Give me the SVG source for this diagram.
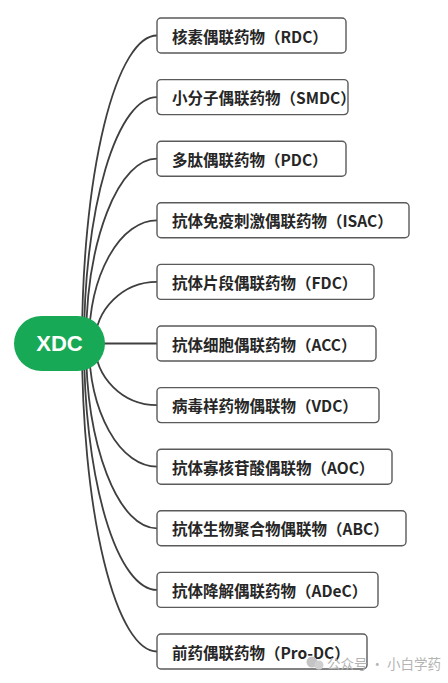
<svg xmlns="http://www.w3.org/2000/svg" width="448" height="683" viewBox="0 0 448 683">
<style>
.c{fill:none;stroke:#3f3f3f;stroke-width:1.8}
.b{fill:#fff;stroke:#5a5a5a;stroke-width:1.4}
.t{font-family:"Noto Sans CJK SC","Liberation Sans",sans-serif;font-size:15.5px;font-weight:700;fill:#262626;dominant-baseline:central}
.w{font-family:"Noto Sans CJK SC","Liberation Sans",sans-serif;font-size:13.5px;fill:#b4b4b4;dominant-baseline:central}
</style>
<rect width="448" height="683" fill="#fff"/>
<g id="connectors">
<path class="c" d="M82 343.5 A75 308 0 0 1 157 35.5"/>
<path class="c" d="M84 343.5 A73 246.4 0 0 1 157 97.1"/>
<path class="c" d="M86 343.5 A71 184.8 0 0 1 157 158.7"/>
<path class="c" d="M89 343.5 A68 123.2 0 0 1 157 220.3"/>
<path class="c" d="M95 343.5 A62 61.6 0 0 1 157 281.9"/>
<path class="c" d="M100 343.5 L157 343.5"/>
<path class="c" d="M95 343.5 A62 61.6 0 0 0 157 405.1"/>
<path class="c" d="M89 343.5 A68 123.2 0 0 0 157 466.7"/>
<path class="c" d="M86 343.5 A71 184.8 0 0 0 157 528.3"/>
<path class="c" d="M84 343.5 A73 246.4 0 0 0 157 589.9"/>
<path class="c" d="M82 343.5 A75 308 0 0 0 157 651.5"/>
</g>
<g id="root">
<rect x="14" y="316" width="91" height="55" rx="27.5" fill="#17a956"/>
<text x="59.5" y="343.5" text-anchor="middle" style="font-family:'Liberation Sans',sans-serif;font-size:22px;font-weight:700;fill:#fff;dominant-baseline:central">XDC</text>
</g>
<g id="n1"><rect class="b" x="157" y="18" width="189" height="35" rx="4"/><text class="t" x="172" y="35.5">核素偶联药物（RDC）</text></g>
<g id="n2"><rect class="b" x="157" y="79.6" width="191" height="35" rx="4"/><text class="t" x="172" y="97.1">小分子偶联药物（SMDC）</text></g>
<g id="n3"><rect class="b" x="157" y="141.2" width="189" height="35" rx="4"/><text class="t" x="172" y="158.7">多肽偶联药物（PDC）</text></g>
<g id="n4"><rect class="b" x="157" y="202.8" width="252" height="35" rx="4"/><text class="t" x="172" y="220.3">抗体免疫刺激偶联药物（ISAC）</text></g>
<g id="n5"><rect class="b" x="157" y="264.4" width="217" height="35" rx="4"/><text class="t" x="172" y="281.9">抗体片段偶联药物（FDC）</text></g>
<g id="n6"><rect class="b" x="157" y="326" width="219" height="35" rx="4"/><text class="t" x="172" y="343.5">抗体细胞偶联药物（ACC）</text></g>
<g id="n7"><rect class="b" x="157" y="387.6" width="222" height="35" rx="4"/><text class="t" x="172" y="405.1">病毒样药物偶联物（VDC）</text></g>
<g id="n8"><rect class="b" x="157" y="449.2" width="235" height="35" rx="4"/><text class="t" x="172" y="466.7">抗体寡核苷酸偶联物（AOC）</text></g>
<g id="n9"><rect class="b" x="157" y="510.8" width="249" height="35" rx="4"/><text class="t" x="172" y="528.3">抗体生物聚合物偶联物（ABC）</text></g>
<g id="n10"><rect class="b" x="157" y="572.4" width="221" height="35" rx="4"/><text class="t" x="172" y="589.9">抗体降解偶联药物（ADeC）</text></g>
<g id="n11"><rect class="b" x="157" y="634" width="210" height="35" rx="4"/><text class="t" x="172" y="651.5">前药偶联药物（Pro-DC）</text></g>
<g id="watermark">
<circle cx="312" cy="662" r="5.5" fill="#c4c4c4"/>
<circle cx="319" cy="665" r="4.5" fill="#cfcfcf"/>
<text class="w" x="327" y="663">公众号 · 小白学药</text>
</g>
</svg>
